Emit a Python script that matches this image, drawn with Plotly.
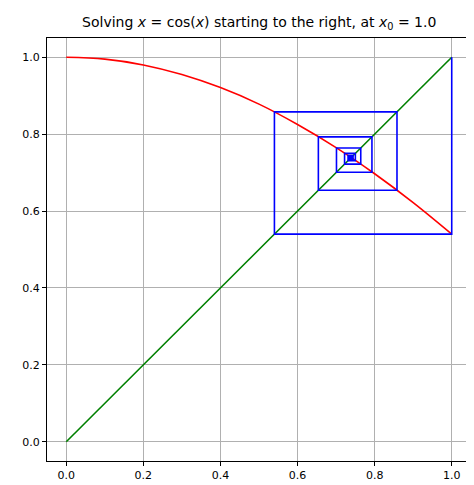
import plotly.graph_objects as go

# cos(x) curve
curve_x = [0.0, 0.1, 0.2, 0.3, 0.4, 0.5, 0.6, 0.7, 0.8, 0.9, 1.0]
curve_y = [1.0, 0.995, 0.980, 0.955, 0.921, 0.878, 0.825, 0.765, 0.697, 0.622, 0.540]

# diagonal y = x
diag = [0.0, 1.0]

# iterates of x -> cos(x) starting at 1.0
iterates = [1.0, 0.540, 0.858, 0.654, 0.793, 0.701, 0.764, 0.722, 0.750,
            0.731, 0.744, 0.735, 0.741, 0.737, 0.740, 0.738, 0.739]

# cobweb path: vertical to the curve, then horizontal to the diagonal
web_x, web_y = [iterates[0]], [iterates[0]]
for a, b in zip(iterates[:-1], iterates[1:]):
    web_x += [a, b]
    web_y += [b, b]

fig = go.Figure()
fig.add_trace(go.Scatter(x=diag, y=diag, mode="lines", line=dict(color="green", width=1.6)))
fig.add_trace(go.Scatter(x=curve_x, y=curve_y, mode="lines", line=dict(color="red", width=1.6, shape="spline")))
fig.add_trace(go.Scatter(x=web_x, y=web_y, mode="lines", line=dict(color="blue", width=1.6)))

axis = dict(range=[-0.05, 1.05], tickvals=[0, 0.2, 0.4, 0.6, 0.8, 1.0], tickformat=".1f",
            showgrid=True, gridcolor="#b0b0b0", gridwidth=1, zeroline=False,
            showline=True, mirror=True, linecolor="black", linewidth=1,
            ticks="outside", ticklen=4, tickcolor="black", automargin=False)

fig.update_layout(
    width=474, height=485,
    margin=dict(l=39, r=11, t=30, b=32),
    paper_bgcolor="white", plot_bgcolor="white",
    showlegend=False,
    font=dict(family="DejaVu Sans", size=11, color="black"),
    title=dict(text="Solving <i>x</i> = cos(<i>x</i>) starting to the right, at <i>x</i><sub>0</sub> = 1.0",
               x=0.53, xanchor="center", y=0.97, yanchor="middle", font=dict(size=14)),
    xaxis=axis, yaxis=axis,
)

fig.write_html("out.html")
